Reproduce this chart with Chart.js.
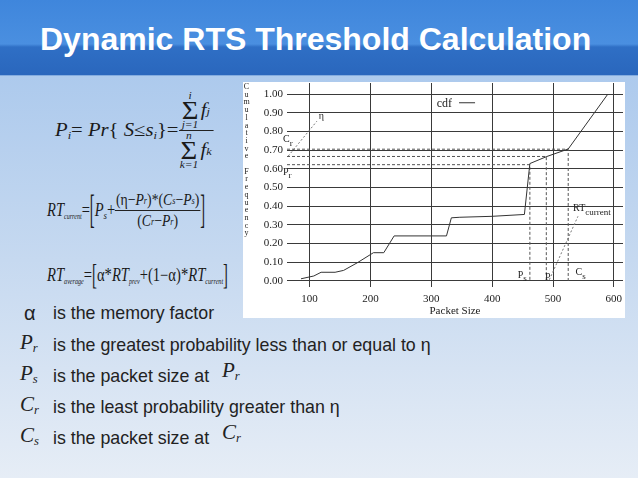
<!DOCTYPE html>
<html>
<head>
<meta charset="utf-8">
<script src="https://cdn.jsdelivr.net/npm/chart.js@4.4.0/dist/chart.umd.min.js"></script>
<style>
html, body { margin: 0; padding: 0; }
body {
    width: 638px; height: 478px; overflow: hidden; position: relative;
    font-family: "Liberation Sans", Arial, sans-serif;
    background: linear-gradient(180deg, #adcaed 76px, #c6d9f0 260px, #e6edf6 478px);
}
#head {
    position: absolute; left: 0; top: 0; width: 638px; height: 75px;
    background: linear-gradient(180deg, #3f86dc 0px, #4a8fe0 44px, #2f6fc5 47px, #2a67bd 74px);
    border-bottom: 1px solid #84acdf;
}
#title {
    position: absolute; left: 40px; top: 20px; color: #fff;
    font-weight: bold; font-size: 32px; line-height: 38px; white-space: nowrap;
}
.math { position: absolute; font-family: "Liberation Serif", serif; color: #1a1a1a; white-space: nowrap; transform-origin: left center; }
.math i { font-style: italic; }
.math sub { font-size: 60%; vertical-align: -0.3em; font-style: italic; }
.math sub.t { font-size: 42%; vertical-align: -0.45em; }
.frac { display: inline-flex; flex-direction: column; vertical-align: middle; text-align: center; }
.frac .num { border-bottom: 1px solid #222; padding: 0 1px; display: flex; align-items: center; justify-content: center; }
.frac .den { display: flex; align-items: center; justify-content: center; padding: 0 1px; }
.sum { display: inline-flex; flex-direction: column; align-items: center; line-height: 1; margin-right: 2px; }
.sum small { font-size: 10px; line-height: 10px; font-style: italic; }
.sum big { font-size: 25px; line-height: 19px; }
.br { display: inline-block; vertical-align: middle; }
.row { position: absolute; left: 0; height: 24px; line-height: 24px; font-size: 17.8px; color: #222; white-space: nowrap; }
.sym { position: absolute; font-family: "Liberation Serif", serif; font-style: italic; font-size: 21px; color: #222; }
.sym sub { font-size: 60%; vertical-align: -0.25em; }
#chartBox { position: absolute; left: 243px; top: 82px; width: 382px; height: 236px; background: #fff; }
</style>
</head>
<body>
<div id="head"></div>
<div id="title">Dynamic RTS Threshold Calculation</div>

<div class="math" data-w="158" style="left:55px;top:91px;font-size:18px;">
  <span style="vertical-align:middle"><i>P</i><sub>i</sub>= <i>Pr</i>{ <i>S</i>≤<i>s</i><sub>i</sub>}=</span><span class="frac"><span class="num"><span class="sum"><small>i</small><big>Σ</big><small>j=1</small></span><i>f</i><sub>j</sub></span><span class="den"><span class="sum"><small>n</small><big>Σ</big><small>k=1</small></span><i>f</i><sub>k</sub></span></span>
</div>

<div class="math" data-w="158" style="left:47px;top:190px;font-size:18px;">
  <span style="vertical-align:middle"><i>RT</i><sub class="t">current</sub>=</span><span class="br" style="transform:scaleY(2.2)">[</span><span style="vertical-align:middle"><i>P</i><sub>s</sub>+</span><span class="frac" style="font-size:17px"><span class="num">(η−<i>P</i><sub>r</sub>)*(<i>C</i><sub>s</sub>−<i>P</i><sub>s</sub>)</span><span class="den">(<i>C</i><sub>r</sub>−<i>P</i><sub>r</sub>)</span></span><span class="br" style="transform:scaleY(2.2)">]</span>
</div>

<div class="math" data-w="181" style="left:47px;top:264px;font-size:18px;">
  <span style="vertical-align:middle"><i>RT</i><sub class="t">average</sub>=</span><span class="br" style="transform:scaleY(1.6)">[</span><span style="vertical-align:middle">α*<i>RT</i><sub class="t">prev</sub>+(1−α)*<i>RT</i><sub class="t">current</sub></span><span class="br" style="transform:scaleY(1.6)">]</span>
</div>

<div class="row" style="top:301px;"><span style="position:absolute;left:24px;font-size:20px;">α</span><span style="position:absolute;left:53px;">is the memory factor</span></div>
<div class="sym" style="left:20px;top:330px;">P<sub>r</sub></div>
<div class="row" style="top:333px;"><span style="position:absolute;left:53px;">is the greatest probability less than or equal to η</span></div>
<div class="sym" style="left:20px;top:361px;">P<sub>s</sub></div>
<div class="row" style="top:364px;"><span style="position:absolute;left:53px;">is the packet size at</span></div>
<div class="sym" style="left:222px;top:358px;">P<sub>r</sub></div>
<div class="sym" style="left:20px;top:392px;">C<sub>r</sub></div>
<div class="row" style="top:395px;"><span style="position:absolute;left:53px;">is the least probability greater than η</span></div>
<div class="sym" style="left:20px;top:423px;">C<sub>s</sub></div>
<div class="row" style="top:426px;"><span style="position:absolute;left:53px;">is the packet size at</span></div>
<div class="sym" style="left:222px;top:420px;">C<sub>r</sub></div>

<div id="chartBox"><canvas id="cdfChart" width="382" height="236"></canvas></div>

<script>
// squeeze each formula to the width it has on the slide
document.querySelectorAll('.math[data-w]').forEach(el => {
    const w = el.getBoundingClientRect().width;
    el.style.transform = 'scaleX(' + (Number(el.dataset.w) / w) + ')';
});

// cdf of packet sizes
const packetSize = [86, 107, 119, 142, 156, 178, 205, 222, 239, 325, 333, 347, 400, 453, 462, 490, 525, 590];
const cumFreq = [0.01, 0.025, 0.045, 0.045, 0.055, 0.095, 0.15, 0.15, 0.24, 0.24, 0.337, 0.34, 0.345, 0.355, 0.628, 0.666, 0.706, 1.0];

const xTicks = [100, 200, 300, 400, 500, 600];
const yTicks = [0, 0.1, 0.2, 0.3, 0.4, 0.5, 0.6, 0.7, 0.8, 0.9, 1.0];
const yTitle = 'Cumulative Frequency';

// threshold points
const etaProb = 0.666, etaSize = 489;
const prProb = 0.622, psSize = 462;
const crProb = 0.705, csSize = 525;
const xStart = 63;

// dotted guide lines
const etaGuideX = [65, 112], etaGuideY = [0.668, 0.855];
const rtGuideX = [494, 541], rtGuideY = [0.005, 0.345];

// text labels on the plot
const notes = [
    { t: 'η', s: '', x: 115, y: 0.88 },
    { t: 'C', s: 'r', x: 56.5, y: 0.755 },
    { t: 'P', s: 'r', x: 56.5, y: 0.583 },
    { t: 'RT', s: 'current', x: 533, y: 0.385 },
    { t: 'P', s: 's', x: 442, y: 0.03 },
    { t: 'P', s: '', x: 487, y: 0.02 },
    { t: 'C', s: 's', x: 537, y: 0.045 }
];
const legendAt = { x: 309, y: 0.946 };

const pts = (xs, ys) => xs.map((x, i) => ({ x: x, y: ys[i] }));
const dashed = (data) => ({ data: data, borderColor: '#555', borderWidth: 1, borderDash: [3, 2], pointRadius: 0, showLine: true, fill: false });

const noteLabels = {
    id: 'noteLabels',
    afterDraw(chart) {
        const ctx = chart.ctx, xs = chart.scales.x, ys = chart.scales.y;
        ctx.save();
        ctx.fillStyle = '#222';
        ctx.textBaseline = 'middle';
        notes.forEach(n => {
            const px = xs.getPixelForValue(n.x), py = ys.getPixelForValue(n.y);
            ctx.font = '10px "Liberation Serif"';
            ctx.fillText(n.t, px, py);
            const w = ctx.measureText(n.t).width;
            if (n.s) {
                ctx.font = '9px "Liberation Serif"';
                ctx.fillText(n.s, px + w, py + 4);
            }
        });
        // legend: "cdf" followed by a line sample
        const lx = xs.getPixelForValue(legendAt.x), ly = ys.getPixelForValue(legendAt.y);
        ctx.font = '12px "Liberation Serif"';
        ctx.fillText(chart.data.datasets[0].label, lx, ly);
        const lw = ctx.measureText(chart.data.datasets[0].label).width;
        ctx.strokeStyle = '#333';
        ctx.lineWidth = 1;
        ctx.beginPath();
        ctx.moveTo(lx + lw + 7, ly - 1.5);
        ctx.lineTo(lx + lw + 23, ly - 1.5);
        ctx.stroke();
        // stacked axis title
        ctx.font = '8px "Liberation Serif"';
        ctx.textAlign = 'center';
        yTitle.split('').forEach((c, i) => ctx.fillText(c, 3.5, 5 + i * 7.7));
        ctx.restore();
    }
};

new Chart(document.getElementById('cdfChart').getContext('2d'), {
    type: 'scatter',
    data: {
        datasets: [
            { label: 'cdf', data: pts(packetSize, cumFreq), borderColor: '#333', borderWidth: 1, pointRadius: 0, showLine: true, tension: 0 },
            dashed(pts([xStart, csSize, csSize], [crProb, crProb, 0])),
            dashed(pts([xStart, etaSize, etaSize], [etaProb, etaProb, 0])),
            dashed(pts([xStart, psSize, psSize], [prProb, prProb, 0])),
            Object.assign(dashed(pts(etaGuideX, etaGuideY)), { borderColor: '#777', borderDash: [2, 2] }),
            Object.assign(dashed(pts(rtGuideX, rtGuideY)), { borderColor: '#777', borderDash: [2, 2] })
        ]
    },
    options: {
        responsive: false,
        animation: false,
        layout: { padding: { top: 1, right: 2 } },
        plugins: {
            tooltip: { enabled: false },
            legend: { display: false }
        },
        scales: {
            x: {
                type: 'linear', min: 63, max: 615,
                afterBuildTicks: s => { s.ticks = xTicks.map(v => ({ value: v })); },
                afterFit: s => { s.height = 31; s.paddingLeft = 0; s.paddingRight = 0; },
                grid: { color: '#3a3a3a', drawTicks: false },
                border: { display: false },
                ticks: { padding: 6, color: '#222', font: { family: 'Liberation Serif', size: 11 } },
                title: { display: true, text: 'Packet Size', color: '#222', padding: { top: 0, bottom: 0 }, font: { family: 'Liberation Serif', size: 11 } }
            },
            y: {
                min: -0.034, max: 1.06,
                afterBuildTicks: s => { s.ticks = yTicks.map(v => ({ value: v })); },
                afterFit: s => { s.width = 44; s.paddingTop = 0; s.paddingBottom = 0; },
                grid: { color: '#3a3a3a', drawTicks: false },
                border: { display: false },
                ticks: { padding: 4, color: '#222', font: { family: 'Liberation Serif', size: 11 }, callback: v => v.toFixed(2) }
            }
        }
    },
    plugins: [noteLabels]
});
</script>
</body>
</html>
